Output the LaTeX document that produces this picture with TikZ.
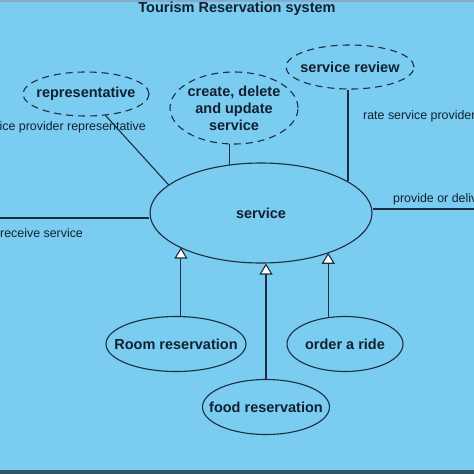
\documentclass[tikz,border=0pt]{standalone}
\usepackage{fontspec}
\setmainfont{Liberation Sans}
\usetikzlibrary{shapes.geometric,arrows.meta}
\definecolor{bg}{RGB}{122,204,240}
\definecolor{ink}{RGB}{18,32,48}
\definecolor{edge}{RGB}{28,46,64}
\definecolor{topc}{RGB}{132,172,200}
\definecolor{botc}{RGB}{52,82,104}
\begin{document}
\begin{tikzpicture}[x=1pt,y=-1pt,
  uc/.style={ellipse, draw=edge, line width=1.1pt, fill=bg, inner xsep=-30pt, inner ysep=-4pt,
    text=ink, font=\fontsize{14.5}{17}\selectfont\bfseries, align=center},
  ucd/.style={uc, dash pattern=on 7pt off 5pt},
  lbl/.style={text=ink, font=\fontsize{12.4}{14}\selectfont, inner sep=0pt},
  conn/.style={draw=edge, line width=1.1pt},
  gen/.style={conn, -{Triangle[length=11pt,width=13pt,fill=white]}}]
\useasboundingbox (0,0) rectangle (474,474);
\clip (0,0) rectangle (474,474);
\fill[bg] (0,0) rectangle (474,474);
\fill[topc] (0,0) rectangle (474,2);
\fill[botc] (0,469.5) rectangle (474,474);

\node[text=ink, font=\fontsize{14.5}{17}\selectfont\bfseries, inner sep=0pt] (title) at (237,9) {Tourism Reservation system};

\node[ucd, minimum width=126pt, minimum height=44pt] (rep) at (86,94) {representative};
\node[ucd, minimum width=128pt, minimum height=72pt] (create) at (234,108) {create, delete\\and update\\service};
\node[ucd, minimum width=128pt, minimum height=44pt] (review) at (350,67) {service review};
\node[uc, minimum width=222pt, minimum height=100pt] (svc) at (261,213) {service};
\node[uc, minimum width=140pt, minimum height=55pt] (room) at (176,344) {Room reservation};
\node[uc, minimum width=116pt, minimum height=55pt] (order) at (345,344) {order a ride};
\node[uc, minimum width=127pt, minimum height=55pt] (food) at (266,407) {food reservation};

\node[lbl, anchor=base east] (lrep) at (146,130) {service provider representative};
\node[lbl, anchor=base west] (lrate) at (363,119) {rate service provider};
\node[lbl, anchor=base west] (lprov) at (393,202) {provide or deliver service};
\node[lbl, anchor=base west] (lrecv) at (0,237) {receive service};

\coordinate (rgt) at (476,209);
\coordinate (lft) at (-2,218);

\draw[conn] (rep) -- (svc.163);
\draw[conn] (create.263) -- (create.263 |- svc.123);
\draw[conn] (review.south -| svc.20) -- (svc.20);
\draw[conn] (rgt -| svc.east) -- (rgt);
\draw[conn] (lft -| svc.west) -- (lft);

\draw[gen] (room.80) -- (room.80 |- svc.203);
\draw[gen] (food.north) -- (food.north |- svc.south);
\draw[gen] (order.122) -- (order.122 |- svc.330);
\end{tikzpicture}
\end{document}
